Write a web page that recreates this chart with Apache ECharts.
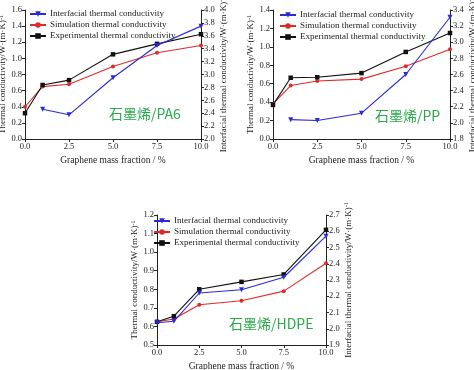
<!DOCTYPE html>
<html><head><meta charset="utf-8">
<script src="https://cdn.jsdelivr.net/npm/echarts@6/dist/echarts.min.js"></script>
<style>html,body{margin:0;padding:0;background:#fff}#c{width:474px;height:370px}</style>
</head><body><div id="c"></div>
<script>
const xVals = [0, 1, 2.5, 5, 7.5, 10];
const seriesNames = ['Interfacial thermal conductivity', 'Simulation thermal conductivity', 'Experimental thermal conductivity'];
// PA6
const pa6Interfacial = [null, 2.46, 2.375, 2.95, 3.45, 3.75];
const pa6Simulation = [0.40, 0.65, 0.68, 0.90, 1.07, 1.16];
const pa6Experimental = [0.32, 0.67, 0.73, 1.05, 1.18, 1.30];
// PP
const ppInterfacial = [null, 2.04, 2.03, 2.12, 2.60, 3.31];
const ppSimulation = [0.38, 0.58, 0.63, 0.65, 0.79, 0.975];
const ppExperimental = [0.37, 0.665, 0.67, 0.715, 0.945, 1.15];
// HDPE
const hdpeInterfacial = [2.037, 2.046, 2.22, 2.24, 2.317, 2.57];
const hdpeSimulation = [0.625, 0.64, 0.717, 0.738, 0.79, 0.94];
const hdpeExperimental = [0.625, 0.655, 0.80, 0.84, 0.88, 1.12];
const panelLabels = ['石墨烯/PA6', '石墨烯/PP', '石墨烯/HDPE'];
const xName = 'Graphene mass fraction / %';
const leftName = 'Thermal conductivity/W·(m·K){s|-1}';
const rightName = 'Interfacial thermal conductivity/W·(m·K){s|-1}';

const FONT = '"Liberation Serif", "Times New Roman", serif';
const colors = ['#2a2ad8', '#e02a2a', '#111111'];
const pair = (a) => xVals.map((x, i) => [x, a[i]]).filter(p => p[1] !== null);

const grids = [
  {left: 25, top: 10, width: 176, height: 129},
  {left: 273, top: 10, width: 177, height: 129},
  {left: 157, top: 215, width: 169, height: 130}
].map(g => Object.assign(g, {containLabel: false, outerBoundsMode: 'none'}));
const leftRanges = [[0, 1.6, 0.2], [0, 1.4, 0.2], [0.5, 1.2, 0.1]];
const rightRanges = [[2.0, 4.0, 0.2], [1.8, 3.4, 0.2], [1.9, 2.7, 0.1]];
const data = [
  [pa6Interfacial, pa6Simulation, pa6Experimental],
  [ppInterfacial, ppSimulation, ppExperimental],
  [hdpeInterfacial, hdpeSimulation, hdpeExperimental]
];
const legendPos = [{left: 29, top: 9}, {left: 279, top: 10}, {left: 153, top: 216}];
const labelPos = [{left: 109, top: 107}, {left: 375, top: 109}, {left: 229, top: 317}];

const axisLine = {show: true, lineStyle: {color: '#222', width: 1}};
const axisTick = {show: true, inside: false, length: 3, lineStyle: {color: '#222'}};
const labelStyle = {fontFamily: FONT, fontSize: 8.5, color: '#222', margin: 3};
const nameStyle = {fontFamily: FONT, fontSize: 9, color: '#222', rich: {s: {fontFamily: FONT, fontSize: 6, color: '#222', verticalAlign: 'top', padding: [0,0,4,0]}}};

const xAxis = [], yAxis = [], series = [], legend = [], title = [];
grids.forEach((g, k) => {
  xAxis.push({type: 'value', gridIndex: k, min: 0, max: 10, interval: 2.5,
    axisLine, axisTick, splitLine: {show: false},
    axisLabel: Object.assign({}, labelStyle, {formatter: v => v.toFixed(1)}),
    name: xName, nameLocation: 'middle', nameGap: 16, nameTextStyle: {fontFamily: FONT, fontSize: 9.5, color: '#222'}});
  const L = leftRanges[k], R = rightRanges[k];
  yAxis.push({type: 'value', gridIndex: k, position: 'left', min: L[0], max: L[1], interval: L[2],
    axisLine, axisTick, splitLine: {show: false},
    axisLabel: Object.assign({}, labelStyle, {formatter: v => v.toFixed(1)}),
    name: leftName, nameLocation: 'middle', nameGap: 15, nameRotate: 90, nameTextStyle: nameStyle});
  yAxis.push({type: 'value', gridIndex: k, position: 'right', min: R[0], max: R[1], interval: R[2],
    axisLine, axisTick, splitLine: {show: false},
    axisLabel: Object.assign({}, labelStyle, {formatter: v => v.toFixed(1)}),
    name: rightName, nameLocation: 'middle', nameGap: 17, nameRotate: 90, nameTextStyle: nameStyle});
  const d = data[k];
  const syms = [['triangle', 180, 5], ['circle', 0, 4], ['rect', 0, 4.5]];
  [0, 1, 2].forEach(j => {
    series.push({type: 'line', name: seriesNames[j], xAxisIndex: k, yAxisIndex: j === 0 ? 2 * k + 1 : 2 * k,
      data: pair(d[j]), symbol: syms[j][0], symbolRotate: syms[j][1], symbolSize: syms[j][2],
      showAllSymbol: true, animation: false, z: j === 0 ? 3 : 2,
      lineStyle: {color: colors[j], width: 1.1}, itemStyle: {color: colors[j]}});
  });
  legend.push(Object.assign({orient: 'vertical', data: seriesNames, itemWidth: 16, itemHeight: 7, itemGap: 1,
    padding: 0, textStyle: {fontFamily: FONT, fontSize: 9, lineHeight: 10, color: '#222', padding: [0, 0, 0, -1]}}, legendPos[k]));
  title.push(Object.assign({text: panelLabels[k], padding: 0,
    textStyle: {fontFamily: '"Noto Sans CJK SC", sans-serif', fontSize: 14, fontWeight: 'normal', color: '#2aa84a'}}, labelPos[k]));
});

const chart = echarts.init(document.getElementById('c'), null, {renderer: 'canvas'});
chart.setOption({animation: false, backgroundColor: '#fff', grid: grids, xAxis, yAxis, series, legend, title});
</script></body></html>
